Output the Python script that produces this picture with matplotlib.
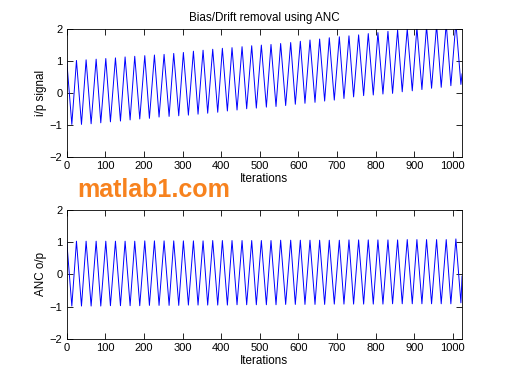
#!/usr/bin/env python3

import matplotlib
matplotlib.use('Agg')
import matplotlib.pyplot as plt
import numpy as np

# iterations of the peaks and troughs of the wave
peak_iter = [0, 25, 50, 76, 101, 126, 151, 176, 202, 227, 252, 277, 302, 328,
             353, 378, 403, 428, 454, 479, 504, 529, 554, 580, 605, 630, 655,
             680, 706, 731, 756, 781, 806, 832, 857, 882, 907, 932, 958, 983, 1008]
trough_iter = [13, 38, 63, 88, 113, 139, 164, 189, 214, 239, 265, 290, 315, 340,
               365, 391, 416, 441, 466, 491, 517, 542, 567, 592, 617, 643, 668,
               693, 718, 743, 769, 794, 819, 844, 869, 895, 920, 945, 970, 995, 1021]
end_iter = 1024

# i/p signal (sine + drift)
in_peaks = [0.98, 1.02, 1.04, 1.06, 1.08, 1.10, 1.13, 1.15, 1.17, 1.19, 1.21,
            1.24, 1.27, 1.31, 1.34, 1.37, 1.40, 1.42, 1.45, 1.48, 1.50, 1.52,
            1.55, 1.58, 1.62, 1.66, 1.69, 1.73, 1.76, 1.79, 1.82, 1.86, 1.89,
            1.93, 1.97, 2.01, 2.05, 2.09, 2.13, 2.17, 2.21]
in_troughs = [-0.98, -0.98, -0.96, -0.93, -0.90, -0.875, -0.84, -0.81, -0.79,
              -0.75, -0.73, -0.71, -0.69, -0.66, -0.63, -0.60, -0.56, -0.53,
              -0.49, -0.47, -0.44, -0.42, -0.39, -0.35, -0.32, -0.29, -0.25,
              -0.22, -0.17, -0.12, -0.08, -0.06, -0.03, -0.01, 0.04, 0.07, 0.11,
              0.15, 0.18, 0.23, 0.27]
in_end = 0.6

# ANC o/p
out_peaks = [1.00, 1.03, 1.03, 1.03, 1.03, 1.03, 1.03, 1.03, 1.04, 1.04, 1.04,
             1.04, 1.04, 1.04, 1.04, 1.05, 1.05, 1.05, 1.05, 1.05, 1.05, 1.05,
             1.06, 1.06, 1.06, 1.06, 1.06, 1.06, 1.06, 1.07, 1.07, 1.07, 1.07,
             1.07, 1.07, 1.08, 1.08, 1.08, 1.08, 1.08, 1.10]
out_troughs = [-0.98, -0.98, -0.98, -0.98, -0.97, -0.97, -0.97, -0.97, -0.96,
               -0.96, -0.96, -0.96, -0.95, -0.95, -0.95, -0.95, -0.95, -0.94,
               -0.94, -0.94, -0.94, -0.94, -0.93, -0.93, -0.93, -0.93, -0.93,
               -0.92, -0.92, -0.92, -0.92, -0.92, -0.92, -0.91, -0.91, -0.91,
               -0.91, -0.91, -0.91, -0.91, -0.88]
out_end = -0.05

xticks = np.arange(0, 1001, 100)
yticks = [-2, -1, 0, 1, 2]


def wave(peaks, troughs, end):
    x = np.column_stack([peak_iter, trough_iter]).ravel()
    y = np.column_stack([peaks, troughs]).ravel()
    return np.append(x, end_iter), np.append(y, end)


plt.rcParams['font.family'] = ['Liberation Sans', 'DejaVu Sans']
plt.rcParams['font.size'] = 8

fig = plt.figure(figsize=(5.1, 3.83), dpi=100)
ax1 = fig.add_axes([0.131, 0.590, 0.775, 0.334])
ax2 = fig.add_axes([0.131, 0.115, 0.775, 0.337])

for ax, (p, t, e), lab in [(ax1, (in_peaks, in_troughs, in_end), 'i/p signal'),
                           (ax2, (out_peaks, out_troughs, out_end), 'ANC o/p')]:
    x, y = wave(p, t, e)
    ax.plot(x, y, color='#0000FF', linewidth=0.7)
    ax.set_xlim(0, 1024)
    ax.set_ylim(-2, 2)
    ax.set_xticks(xticks)
    ax.set_yticks(yticks)
    ax.tick_params(direction='in', top=True, right=True, length=4, width=0.6,
                   labelsize=8, pad=3)
    for s in ax.spines.values():
        s.set_linewidth(0.6)
    ax.set_xlabel('Iterations', fontsize=8.4, labelpad=1)
    ax.set_ylabel(lab, fontsize=8.4, labelpad=2)

ax1.set_title('Bias/Drift removal using ANC', fontsize=8.4, pad=6)

fig.text(0.151, 0.486, 'matlab1.com', color='#F7821E', fontsize=18,
         fontweight='bold', ha='left', va='baseline')

plt.savefig('out.png', dpi=100)
